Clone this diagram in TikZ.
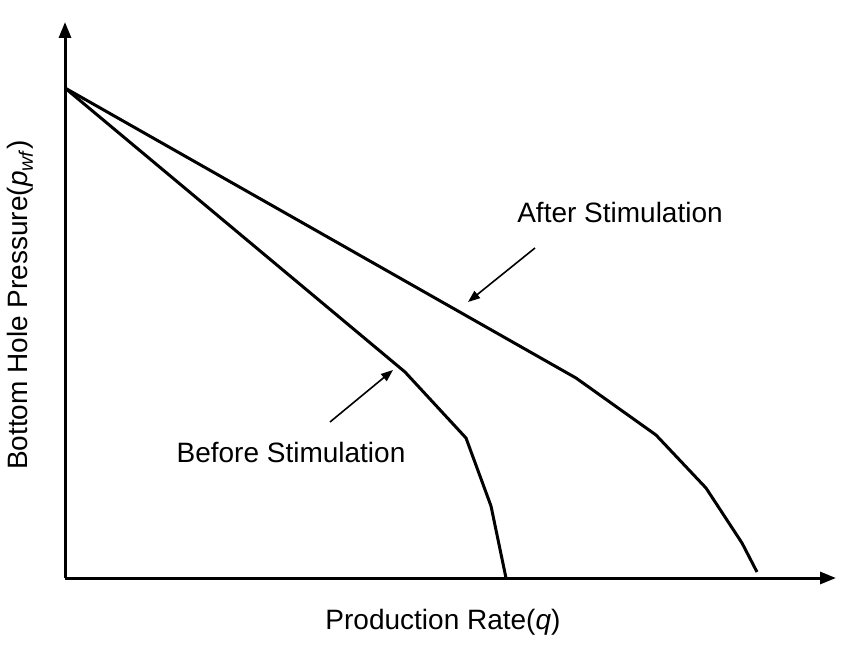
\documentclass[tikz,border=0pt]{standalone}
\usepackage{fontspec}
\setmainfont{Liberation Sans}
\usetikzlibrary{arrows.meta}
\begin{document}
\begin{tikzpicture}[x=1pt,y=-1pt,
  curve/.style={line width=3pt,line join=miter},
  axis/.style={line width=3pt,-{Triangle[length=16pt,width=12pt]}},
  pointer/.style={line width=1.6pt,-{Triangle[length=12pt,width=9pt]}},
  lbl/.style={font=\fontsize{28}{32}\selectfont,inner sep=0pt}]
\useasboundingbox (0,0) rectangle (844,658);
\coordinate (o) at (65,578);
\coordinate (ytop) at (65,22);
\coordinate (xend) at (836,578);
\draw[axis] (o) -- (ytop);
\draw[axis] (o) -- (xend);
\coordinate (s) at (65,88);
\draw[curve] (s) -- (405,372) -- (466,438) -- (491,506) -- (506,578);
\draw[curve] (s) -- (576,378) -- (656,435) -- (706,488) -- (742,543) -- (757,572);
\node[lbl] (after) at (620,212) {After Stimulation};
\node[lbl] (before) at (291,452) {Before Stimulation};
\coordinate (a1) at (535,248); \coordinate (a2) at (468,302);
\coordinate (b1) at (330,422); \coordinate (b2) at (393,370);
\draw[pointer] (a1) -- (a2);
\draw[pointer] (b1) -- (b2);
\node[lbl] (xl) at (443,622) {Production Rate(\textit{q})};
\node[lbl,rotate=90] (yl) at (20,305) {Bottom Hole Pressure(\textit{p}\textsubscript{\textit{wf}})};
\end{tikzpicture}
\end{document}
